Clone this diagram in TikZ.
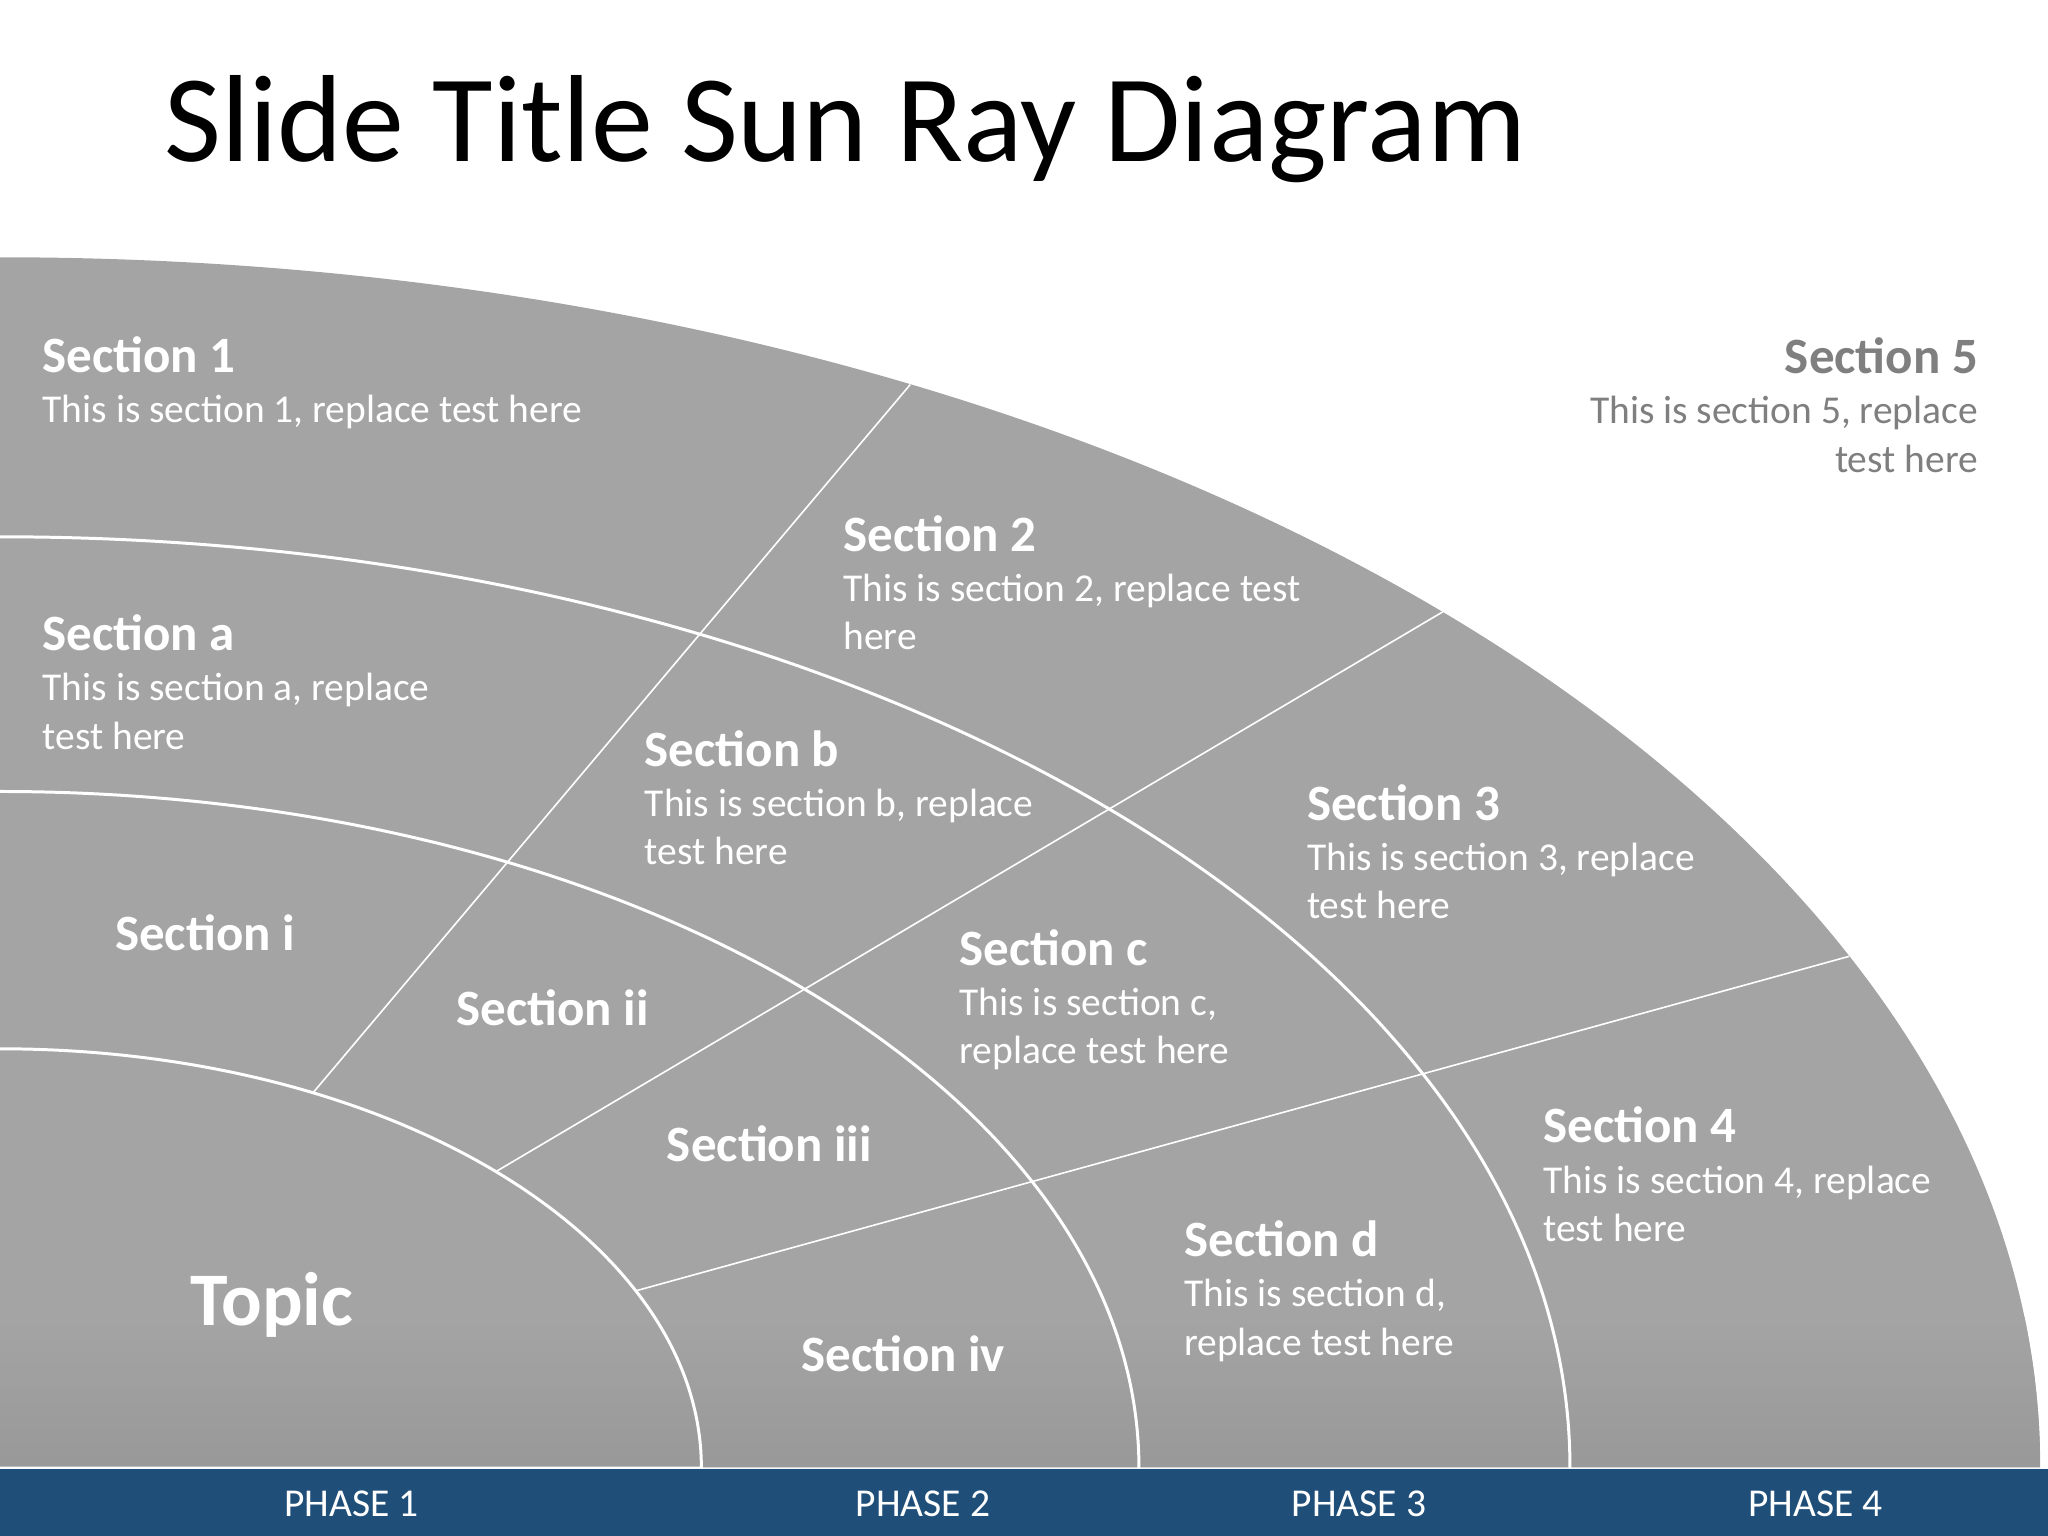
\documentclass[tikz,border=0pt]{standalone}
\usepackage{fontspec}
\setmainfont{Carlito}
\usetikzlibrary{calc, positioning}

\definecolor{raygrey}{HTML}{A4A4A4}
\definecolor{phaseblue}{HTML}{1F4E79}
\definecolor{notegrey}{HTML}{7F7F7F}

\begin{document}
\begin{tikzpicture}[
          head/.style={inner sep=0pt, anchor=base west, text=white, font=\fontsize{11.1}{13}\selectfont\bfseries},
          body/.style={inner sep=0pt, anchor=base west, text=white, align=left, font=\fontsize{8.6}{10.5}\selectfont},
          ring/.style={inner sep=0pt, anchor=base, text=white, font=\fontsize{11.1}{13}\selectfont\bfseries},
          phase/.style={rectangle, fill=phaseblue, minimum height=0.52cm, inner sep=0pt, text=white, font=\fontsize{8.6}{10}\selectfont},
          arcline/.style={white, line width=0.65pt},
          rayline/.style={white, line width=0.35pt}
        ]
          \useasboundingbox (0,-0.52) rectangle (15.68,11.24);

          % title
          \node[inner sep=0pt, anchor=base west, font=\fontsize{27}{32}\selectfont] (title) at (1.25,10.0) {Slide Title Sun Ray Diagram};

          % quarter ellipse fan
          \fill[raygrey] (0,0) -- (0,9.27) arc[start angle=90, end angle=0, x radius=15.62, y radius=9.27] -- cycle;
          \begin{scope}
            \clip (0,0) -- (0,9.27) arc[start angle=90, end angle=0, x radius=15.62, y radius=9.27] -- cycle;
            \shade[top color=raygrey, bottom color=raygrey!93!black] (0,0) rectangle (15.68,1.15);
          \end{scope}

          % rings
          \draw[arcline] (0,7.13) arc[start angle=90, end angle=0, x radius=12.02, y radius=7.13];
          \draw[arcline] (0,5.18) arc[start angle=90, end angle=0, x radius=8.72, y radius=5.18];
          \draw[arcline] (0,3.21) arc[start angle=90, end angle=0, x radius=5.37, y radius=3.21] -- (0,0);
          \draw[white, opacity=0.6, line width=0.4pt] (5.37,0) -- (15.62,0);

          % rays
          \coordinate (r1in) at (63.5:5.37cm and 3.21cm);
          \coordinate (r1out) at (63.5:15.62cm and 9.27cm);
          \coordinate (r2in) at (45:5.37cm and 3.21cm);
          \coordinate (r2out) at (45:15.62cm and 9.27cm);
          \coordinate (r3in) at (25:5.37cm and 3.21cm);
          \coordinate (r3out) at (25:15.62cm and 9.27cm);
          \draw[rayline] (r1in) -- (r1out);
          \draw[rayline] (r2in) -- (r2out);
          \draw[rayline] (r3in) -- (r3out);

          % phase bar
          \fill[phaseblue] (0,-0.52) rectangle (15.68,-0.005);
          \node[phase, minimum width=5.37cm, anchor=north west] (ph1) at (0,-0.005) {PHASE 1};
          \node[phase, minimum width=3.35cm, right=0pt of ph1] (ph2) {PHASE 2};
          \node[phase, minimum width=3.30cm, right=0pt of ph2] (ph3) {PHASE 3};
          \node[phase, minimum width=3.66cm, right=0pt of ph3] (ph4) {PHASE 4};

          % outer sections (base of a two line body is its last line)
          \node[head] (s1) at (0.32,8.39) {Section 1};
          \node[body] (s1t) at ([yshift=-0.385cm]s1.base west) {This is section 1, replace test here};
          \node[head] (s2) at (6.45,7.02) {Section 2};
          \node[body] (s2t) at ([yshift=-0.755cm]s2.base west) {This is section 2, replace test\\here};
          \node[head] (s3) at (10.0,4.96) {Section 3};
          \node[body] (s3t) at ([yshift=-0.755cm]s3.base west) {This is section 3, replace\\test here};
          \node[head] (s4) at (11.81,2.49) {Section 4};
          \node[body] (s4t) at ([yshift=-0.755cm]s4.base west) {This is section 4, replace\\test here};
          \node[head, anchor=base east, text=notegrey] (s5) at (15.15,8.38) {Section 5};
          \node[body, anchor=base east, align=right, text=notegrey] (s5t) at ([yshift=-0.755cm]s5.base east) {This is section 5, replace\\test here};

          % middle sections
          \node[head] (sa) at (0.32,6.26) {Section a};
          \node[body] (sat) at ([yshift=-0.755cm]sa.base west) {This is section a, replace\\test here};
          \node[head] (sb) at (4.93,5.375) {Section b};
          \node[body] (sbt) at ([yshift=-0.755cm]sb.base west) {This is section b, replace\\test here};
          \node[head] (sc) at (7.34,3.85) {Section c};
          \node[body] (sct) at ([yshift=-0.755cm]sc.base west) {This is section c,\\replace test here};
          \node[head] (sd) at (9.06,1.62) {Section d};
          \node[body] (sdt) at ([yshift=-0.755cm]sd.base west) {This is section d,\\replace test here};

          % inner sections
          \node[ring] (si) at (1.57,3.96) {Section i};
          \node[ring] (sii) at (4.23,3.39) {Section ii};
          \node[ring] (siii) at (5.89,2.35) {Section iii};
          \node[ring] (siv) at (6.915,0.74) {Section iv};
          \node[ring, font=\fontsize{16.5}{20}\selectfont\bfseries] (topic) at (2.08,1.09) {Topic};
        \end{tikzpicture}
\end{document}
